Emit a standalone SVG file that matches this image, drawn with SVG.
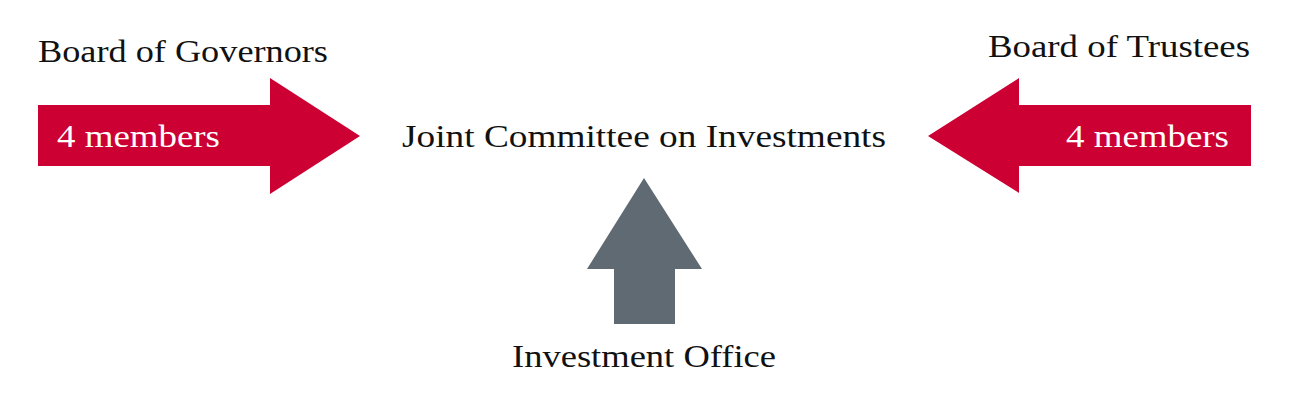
<svg xmlns="http://www.w3.org/2000/svg" width="1289" height="403" viewBox="0 0 1289 403">
<style>
.t{font-family:"Liberation Serif","DejaVu Serif",serif;font-size:31px;fill:#111111}
.w{font-family:"Liberation Serif","DejaVu Serif",serif;font-size:31px;fill:#ffffff}
.red{fill:#cc0033}
.gray{fill:#5f6a73}
</style>
<rect width="1289" height="403" fill="#ffffff"/>
<g id="connectors">
<polygon class="red" points="38,105 270,105 270,78 360,136 270,194 270,166 38,166"/>
<polygon class="red" points="1251,105 1019,105 1019,78 928,136 1019,193 1019,166 1251,166"/>
<polygon class="gray" points="644,178 702,269 675,269 675,324 614,324 614,269 587,269"/>
</g>
<g id="board-of-governors">
<text class="t" x="38" y="62" textLength="290" lengthAdjust="spacingAndGlyphs">Board of Governors</text>
<text class="w" x="57" y="147" textLength="163" lengthAdjust="spacingAndGlyphs">4 members</text>
</g>
<g id="board-of-trustees">
<text class="t" x="988" y="57" textLength="262" lengthAdjust="spacingAndGlyphs">Board of Trustees</text>
<text class="w" x="1066" y="147" textLength="163" lengthAdjust="spacingAndGlyphs">4 members</text>
</g>
<g id="joint-committee">
<text class="t" x="402" y="147" textLength="484" lengthAdjust="spacingAndGlyphs">Joint Committee on Investments</text>
</g>
<g id="investment-office">
<text class="t" x="512" y="367" textLength="264" lengthAdjust="spacingAndGlyphs">Investment Office</text>
</g>
</svg>
